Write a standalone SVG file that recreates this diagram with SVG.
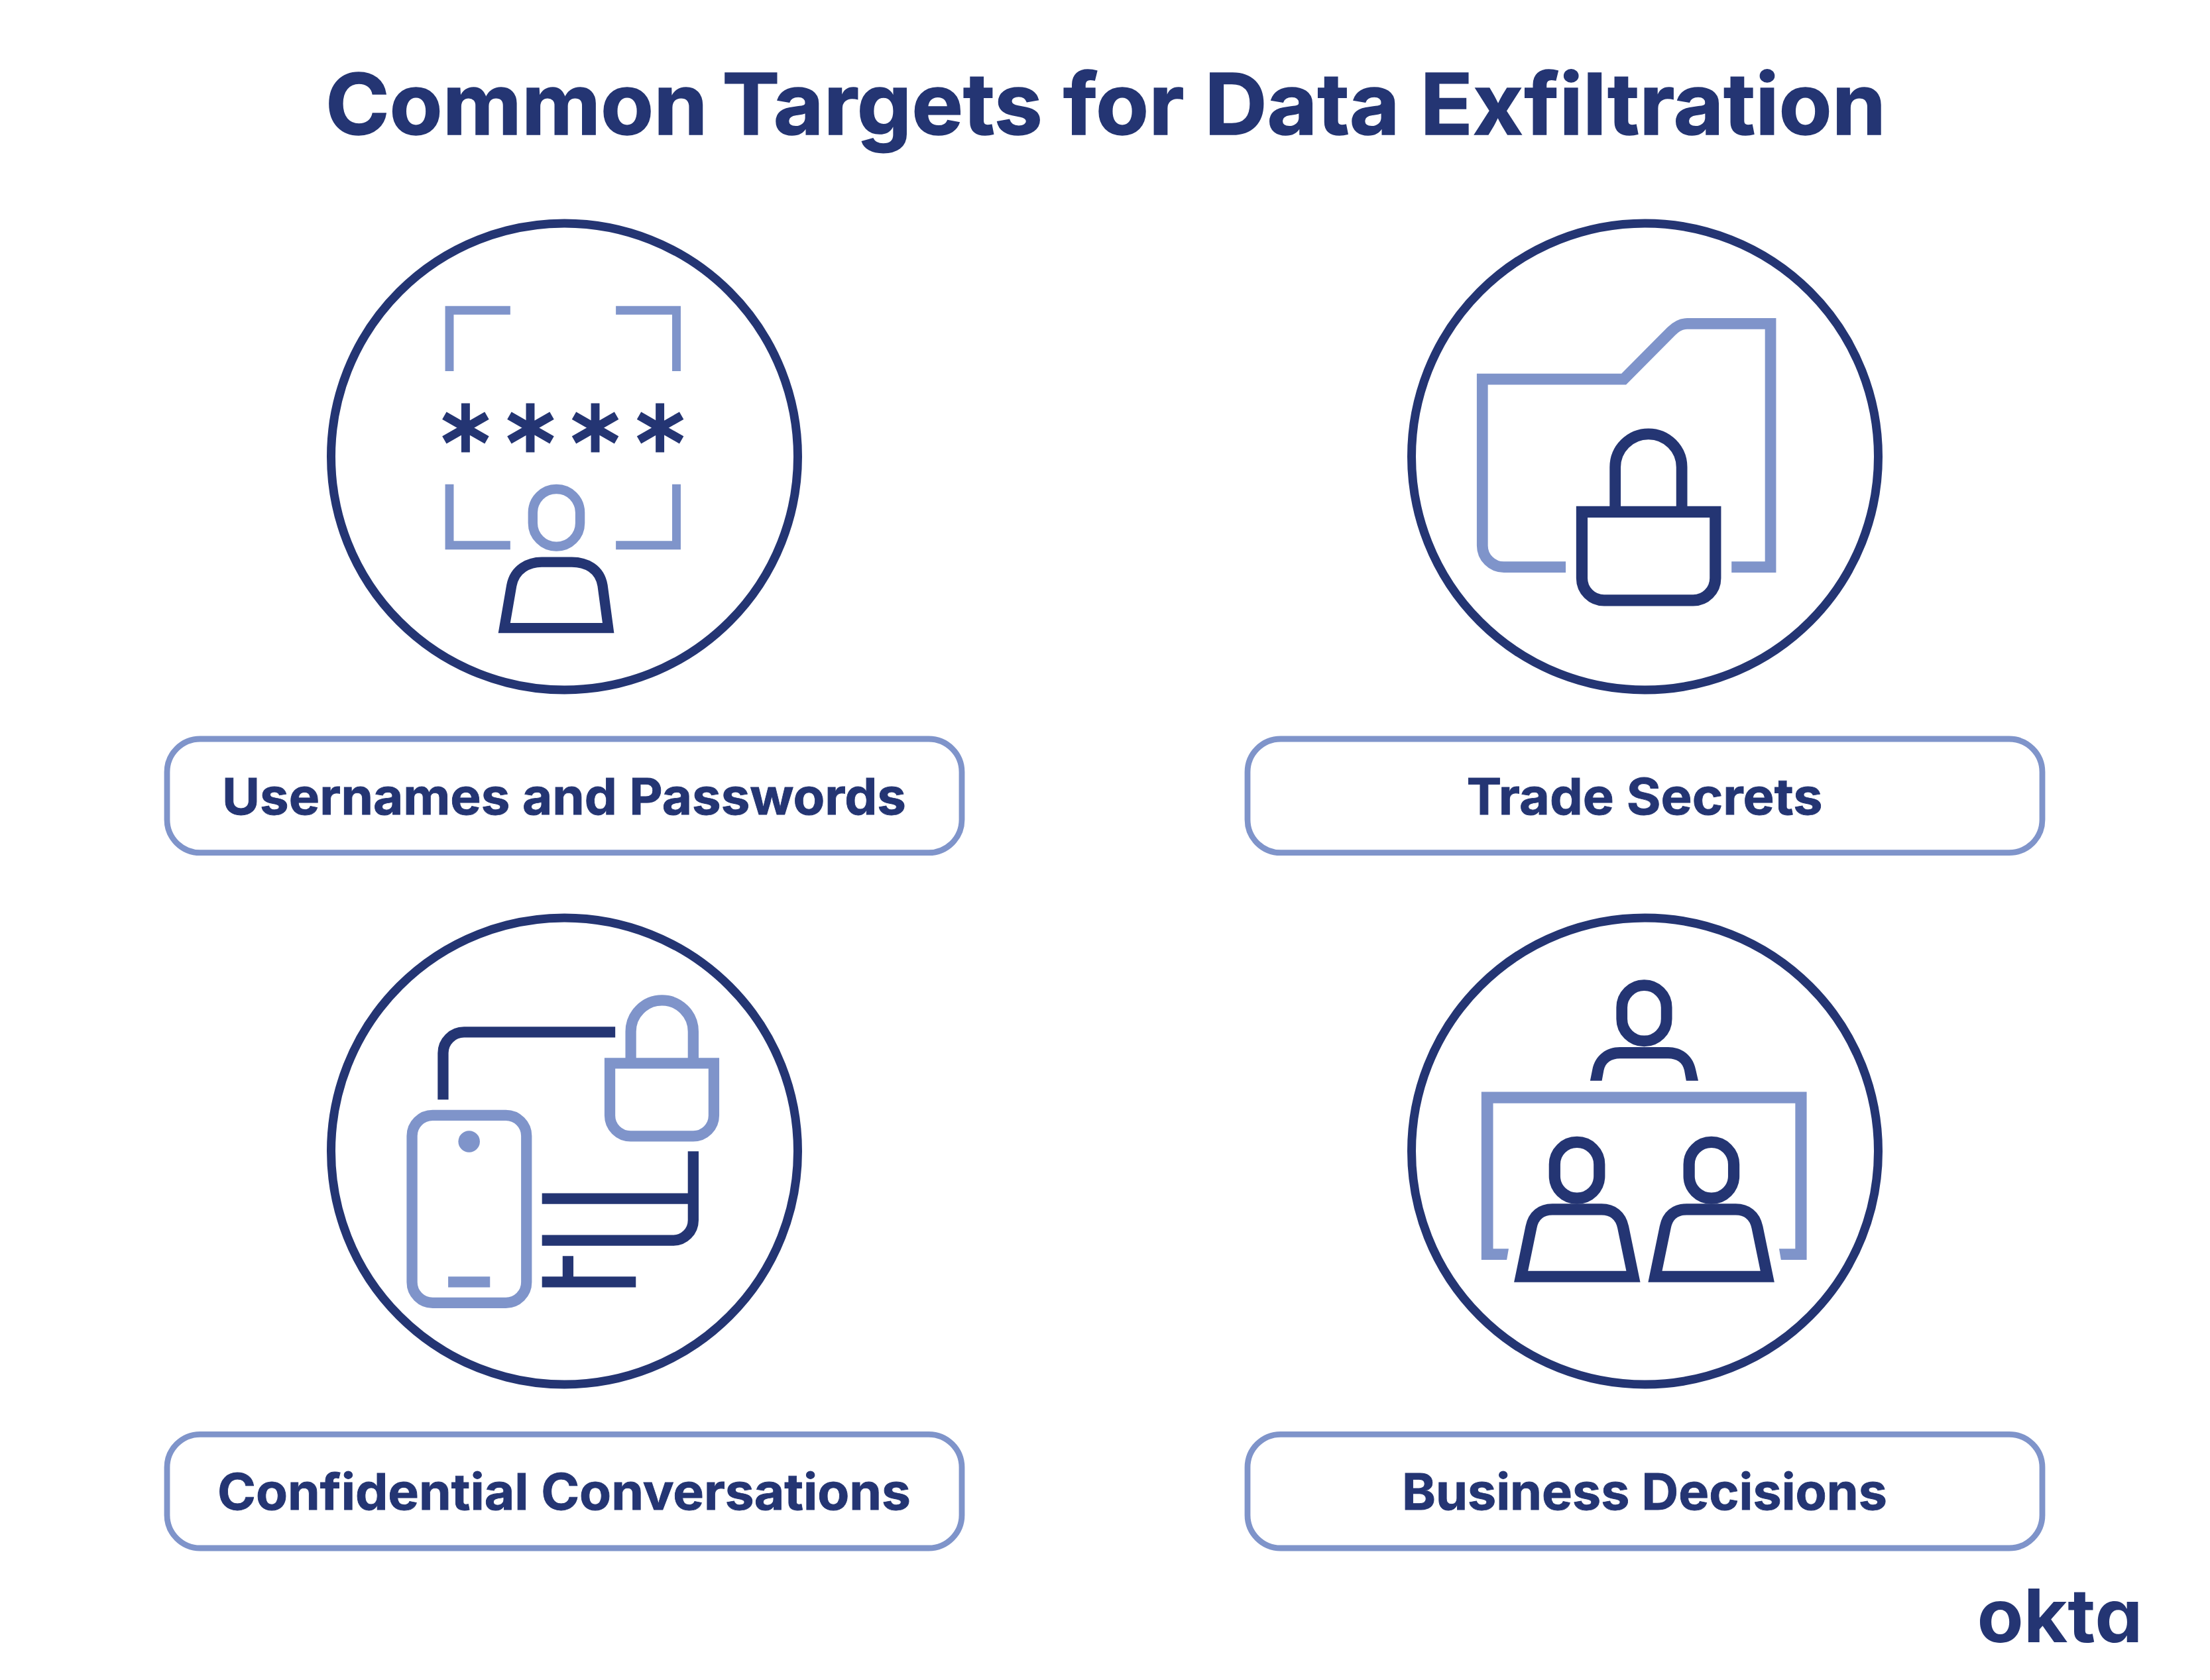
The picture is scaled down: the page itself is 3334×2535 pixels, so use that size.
<svg xmlns="http://www.w3.org/2000/svg" width="3334" height="2535" viewBox="0 0 3334 2535">
<style>
text{font-family:"Inter","Liberation Sans",sans-serif;font-weight:700;fill:#243573;stroke:#243573;text-anchor:middle}
.title{font-size:128px;stroke-width:1.6}
.label{font-size:76px;stroke-width:.9}
.logo{font-size:112px;font-feature-settings:"cv11";stroke-width:0}
.ring{fill:#fff;stroke:#243573;stroke-width:13}
.pill{fill:#fff;stroke:#7f94ca;stroke-width:8.8}
.d,.l{fill:none;stroke-width:34}
.d{stroke:#243573}
.l{stroke:#7f94ca}
.t{stroke-width:27}
.f{stroke-width:30}
.w35{stroke-width:35}
.w36{stroke-width:36}
.w32{stroke-width:32}
.fd{fill:#243573}
.fl{fill:#7f94ca}
</style>
<rect width="3334" height="2535" fill="#fff"/>
<text class="title" x="1668" y="203" textLength="2354" lengthAdjust="spacingAndGlyphs">Common <tspan dx="-9">Targets</tspan> for Data Exfiltration</text>

<g id="node-usernames">
<circle class="ring" cx="851.5" cy="689" r="352"/>
<g transform="translate(480,320) scale(.4783)">
<path class="l t" d="M606 310H414V502M939 310H1130V502M414 859V1051H606M939 1051H1130V859"/>
<path class="d t" d="M465 603V758M398 642L532 719M532 642L398 719M669 603V758M603 642L737 719M737 642L603 719M874 603V758M807 642L941 719M941 642L807 719M1078 603V758M1012 642L1146 719M1146 642L1012 719"/>
<rect class="l f" x="677" y="874" width="149" height="181" rx="74"/>
<path class="d w32" d="M587 1312L610 1178C620 1125 665 1104 705 1104H800C845 1104 888 1125 897 1178L915 1312Z"/>
</g>
</g>
<g id="label-usernames"><rect class="pill" x="252" y="1115" width="1199" height="171.7" rx="50"/><text class="label" x="851" y="1229" textLength="1032" lengthAdjust="spacingAndGlyphs">Usernames and Passwords</text></g>

<g id="node-trade-secrets">
<circle class="ring" cx="2481.5" cy="689" r="352"/>
<g transform="translate(2110,320) scale(.4783)">
<path class="l w35" d="M527 1120H332A68 68 0 0 1 264 1052V527H710L860 376Q884 352 910 352H1173V1120H1050"/>
<path class="d w35" d="M683 946V805A105 105 0 0 1 893 805V946"/>
<path class="d w36" d="M578 946H999V1155A70 70 0 0 1 929 1225H648A70 70 0 0 1 578 1155Z"/>
</g>
</g>
<g id="label-trade-secrets"><rect class="pill" x="1882" y="1115" width="1199" height="171.7" rx="50"/><text class="label" x="2481" y="1229" textLength="537" lengthAdjust="spacingAndGlyphs">Trade Secrets</text></g>

<g id="node-conversations">
<circle class="ring" cx="851.5" cy="1737" r="352"/>
<g transform="translate(480,1370) scale(.4783)">
<path class="d" d="M394 605V458A66 66 0 0 1 460 392H937M1183 768V985A64 64 0 0 1 1119 1049H706M706 917H1183M706 1180H1002M788 1098V1165"/>
<path class="l" d="M986 490V390A98.5 98.5 0 0 1 1183 390V490"/>
<path class="l" d="M920 490H1248V655A65 65 0 0 1 1183 720H985A65 65 0 0 1 920 655Z"/>
<rect class="l" x="296" y="654" width="361" height="592" rx="65"/>
<circle class="fl" cx="476" cy="737" r="34"/>
<path class="l" d="M410 1180H542"/>
</g>
</g>
<g id="label-conversations"><rect class="pill" x="252" y="2164.3" width="1199" height="171.7" rx="50"/><text class="label" x="851" y="2278" textLength="1046" lengthAdjust="spacingAndGlyphs">Confidential Conversations</text></g>

<g id="node-decisions">
<circle class="ring" cx="2481.5" cy="1737" r="352"/>
<g transform="translate(2110,1370) scale(.4783)">
<path class="fl" d="M261 580H1287V1110H1206L1200 1075H1251V616H298V1075H347L341 1110H261Z"/>
<rect class="d w35" x="704" y="244" width="141" height="176" rx="70"/>
<path class="fd" d="M604 545L611 510C620 465 655 439 698 439H850C893 439 928 465 937 510L945 545H907L901 512C896 488 877 475 850 475H698C671 475 652 488 647 512L641 545Z"/>
<rect class="d w36" x="492" y="739" width="141" height="177" rx="70"/>
<rect class="d w36" x="916" y="739" width="141" height="177" rx="70"/>
<path class="d w36" d="M386 1163H740L708 1007C700 970 675 951 640 951H485C450 951 425 970 418 1007Z"/>
<path class="d w36" d="M809 1163H1163L1131 1007C1123 970 1098 951 1063 951H908C873 951 848 970 841 1007Z"/>
</g>
</g>
<g id="label-decisions"><rect class="pill" x="1882" y="2164.3" width="1199" height="171.7" rx="50"/><text class="label" x="2481" y="2278" textLength="732" lengthAdjust="spacingAndGlyphs">Business Decisions</text></g>

<g id="logo"><text class="logo" x="3107.5" y="2478" textLength="250" lengthAdjust="spacingAndGlyphs">okta</text></g>
</svg>
